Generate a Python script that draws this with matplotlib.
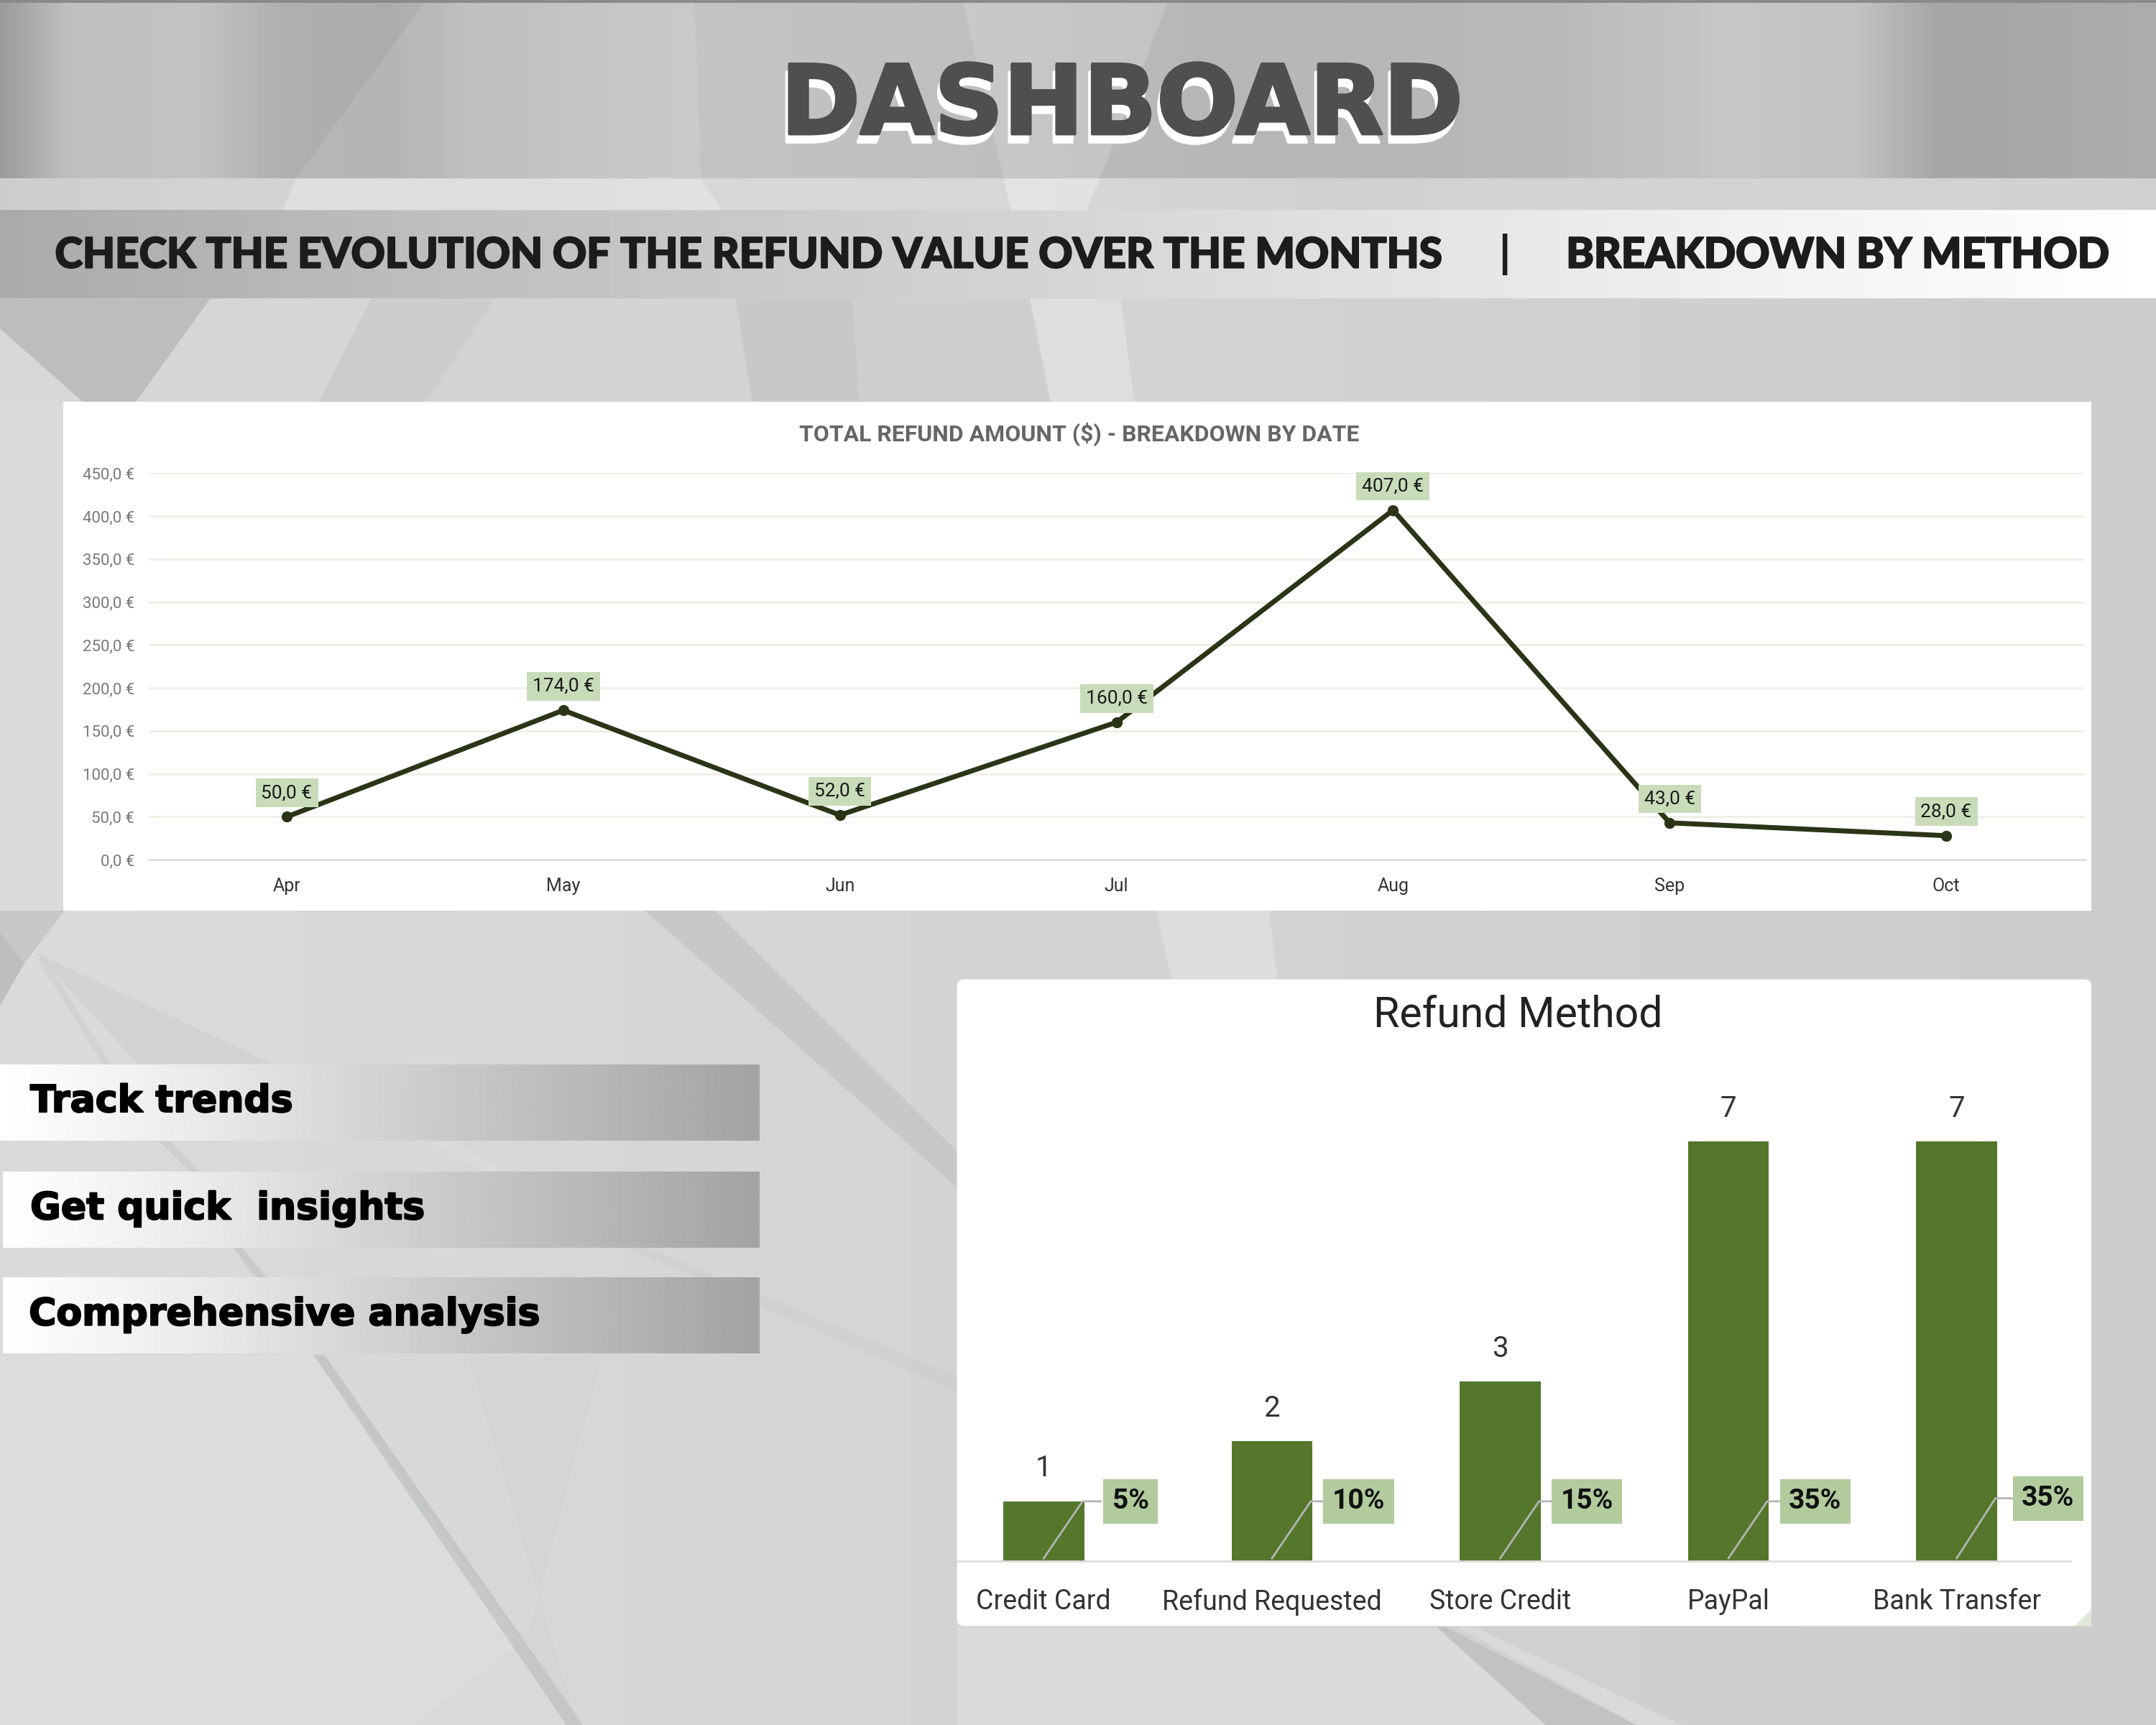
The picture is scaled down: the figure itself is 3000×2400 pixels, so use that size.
import matplotlib
matplotlib.use("Agg")
import matplotlib.patheffects as pe
import matplotlib.pyplot as plt
import numpy as np
from matplotlib.patches import FancyBboxPatch, Polygon, Rectangle

W, H = 1568, 1254

months = ["Apr", "May", "Jun", "Jul", "Aug", "Sep", "Oct"]
refund_amount = [50, 174, 52, 160, 407, 43, 28]
y_ticks = [0, 50, 100, 150, 200, 250, 300, 350, 400, 450]

methods = ["Credit Card", "Refund Requested", "Store Credit", "PayPal", "Bank Transfer"]
method_counts = [1, 2, 3, 7, 7]
method_shares = ["5%", "10%", "15%", "35%", "35%"]

notes = ["Track trends", "Get quick  insights", "Comprehensive analysis"]


def rect(x0, y0, x1, y1):
    # picture coords (y down) to figure fractions
    return [x0 / W, 1 - y1 / H, (x1 - x0) / W, (y1 - y0) / H]


def hgrad(ax, x0, y0, x1, y1, stops, xs=None, z=1):
    xs = np.linspace(0, 1, len(stops)) if xs is None else np.array(xs)
    t = np.linspace(0, 1, 600)
    row = np.interp(t, xs, stops) / 255
    ax.imshow(row[None, :], extent=[x0, x1, y1, y0], cmap="gray", vmin=0, vmax=1,
              aspect="auto", zorder=z, interpolation="bilinear")


fig = plt.figure(figsize=(30, 24), dpi=100)
bg = fig.add_axes([0, 0, 1, 1])
bg.axis("off")
hgrad(bg, 0, 0, W, H, [218, 214, 208, 204], [0, .3, .7, 1], z=0)

# faceted backdrop
facets = [
    ([(0, 239), (0, 217), (153, 217), (99, 292), (60, 292)], "#bcbcbc", 0.95),
    ([(0, 239), (60, 292), (0, 292)], "#d8d8d8", 1),
    ([(153, 217), (360, 217), (310, 292), (99, 292)], "#d6d6d6", 1),
    ([(270, 217), (360, 217), (310, 292), (232, 292)], "#cbcbcb", 0.75),
    ([(360, 217), (535, 217), (547, 292), (310, 292)], "#d3d3d3", 1),
    ([(535, 217), (620, 217), (625, 292), (547, 292)], "#c7c7c7", 0.9),
    ([(620, 217), (749, 217), (764, 292), (625, 292)], "#cfcfcf", 1),
    ([(749, 217), (815, 217), (825, 292), (764, 292)], "#dedede", 1),
    ([(841, 662), (923, 662), (929, 712), (852, 712)], "#dddddd", 1),
    ([(0, 662), (47, 662), (18, 700), (0, 678)], "#c6c6c6", 0.9),
    ([(0, 678), (18, 700), (0, 731)], "#b8b8b8", 0.8),
    ([(25, 692), (197, 773), (100, 773)], "#c9c9c9", 0.4),
    ([(469, 662), (520, 662), (697, 838), (697, 864)], "#bcbcbc", 0.5),
    ([(696, 1183), (1045, 1183), (1124, 1254), (696, 1254)], "#dadbdb", 1),
    ([(1045, 1183), (1052, 1183), (1190, 1254), (1124, 1254)], "#bdbdbd", 0.7),
    ([(1060, 1183), (1073, 1183), (1223, 1254), (1190, 1254)], "#d9d9d9", 1),
    ([(0, 985), (228, 985), (424, 1254), (0, 1254)], "#dddfdf", 0.8),
    ([(340, 985), (438, 985), (384, 1190), (300, 1254), (420, 1254)], "#d2d3d3", 0.3),
    ([(456, 907), (470, 907), (696, 1000), (696, 1012)], "#cccccc", 0.5),
    ([(313, 830), (330, 830), (366, 851), (350, 851)], "#dedede", 0.6),
    ([(228, 985), (236, 985), (424, 1254), (412, 1254)], "#b4b4b4", 0.5),
    ([(116, 830), (124, 830), (146, 852), (138, 852)], "#c6c6c6", 0.5),
    ([(170, 907), (176, 907), (194, 929), (186, 929)], "#c0c0c0", 0.6),
    ([(27, 697), (33, 697), (116, 830), (110, 830)], "#c9c9c9", 0.4),
]
for pts, col, alpha in facets:
    bg.add_patch(Polygon(pts, closed=True, fc=col, ec="none", alpha=alpha, zorder=0.5))

# header strip
hgrad(bg, 0, 0, W, 130, [155, 190, 195, 175, 172, 185, 195, 190, 183, 182, 185, 198, 195, 165, 172],
      [0, .03, .09, .13, .18, .22, .32, .46, .55, .65, .72, .80, .86, .90, 1])
bg.add_patch(Polygon([(310, 0), (505, 0), (510, 130), (215, 130)], fc="white", ec="none", alpha=0.10, zorder=2))
bg.add_patch(Polygon([(700, 0), (850, 0), (800, 130), (730, 130)], fc="white", ec="none", alpha=0.16, zorder=2))
bg.add_patch(Rectangle((0, 0), W, 2, fc="#8a8a8a", ec="none", zorder=2))
hgrad(bg, 0, 130, W, 153, [205, 212, 212, 216, 214, 208, 212, 210, 208])
bg.add_patch(Polygon([(215, 130), (510, 130), (525, 153), (205, 153)], fc="white", ec="none", alpha=0.25, zorder=2))
bg.add_patch(Polygon([(730, 130), (800, 130), (790, 153), (735, 153)], fc="white", ec="none", alpha=0.3, zorder=2))

# sub-title band
hgrad(bg, 0, 153, W, 217, [170, 190, 205, 222, 240, 255], [0, .2, .4, .6, .8, 1])

# note rows
for i, (top, txt, x) in enumerate(zip([774, 852, 929], notes, [22, 22, 21])):
    hgrad(bg, 0 if i == 0 else 2, top, 552, top + 55, [255, 235, 200, 163], [0, .25, .6, 1])
    bg.text(x, top + 27, txt, fontsize=37.5, family="DejaVu Sans", weight="bold", color="black", va="center", zorder=3,
            path_effects=[pe.withStroke(linewidth=1.5, foreground="black")])

# panels
bg.add_patch(Rectangle((46, 292), 1475, 370, fc="white", ec="none", zorder=2))
bg.add_patch(FancyBboxPatch((700, 716), 817, 462, boxstyle="round,pad=4,rounding_size=5", fc="white", ec="none", zorder=2))
bg.add_patch(Polygon([(1509, 1182), (1521, 1170), (1521, 1182)], fc="#dfe8d6", ec="none", zorder=3))

bg.text(814, 84, "DASHBOARD", fontsize=96, family="DejaVu Sans", weight="bold", color="white", ha="center", va="center", zorder=3,
        path_effects=[pe.withStroke(linewidth=3, foreground="white")])
bg.text(816, 78, "DASHBOARD", fontsize=96, family="DejaVu Sans", weight="bold", color="#4f4f4f", ha="center", va="center", zorder=4,
        path_effects=[pe.withStroke(linewidth=3, foreground="#4f4f4f")])
heavy = [pe.withStroke(linewidth=1.5, foreground="#1c1c1c")]
bg.text(40, 186, "CHECK THE EVOLUTION OF THE REFUND VALUE OVER THE MONTHS", fontsize=42, family="Lato", weight=900,
        color="#1c1c1c", va="center", zorder=3, path_effects=heavy)
bg.text(1094, 185, "|", fontsize=44, family="Lato", weight=900, color="#1c1c1c", ha="center", va="center", zorder=3)
bg.text(1139, 186, "BREAKDOWN BY METHOD", fontsize=42, family="Lato", weight=900, color="#1c1c1c", va="center", zorder=3,
        path_effects=heavy)

bg.set_xlim(0, W)
bg.set_ylim(H, 0)

# line chart
ax = fig.add_axes(rect(108, 344, 1516, 625))
ax.patch.set_alpha(0)
x = np.arange(len(months))
ax.plot(x, refund_amount, color="#2a3517", lw=5, marker="o", ms=10, zorder=3)
ax.set_xlim(-0.5, 6.5)
ax.set_ylim(0, 450)
ax.set_yticks(y_ticks)
ax.set_yticklabels([f"{v:.1f} €".replace(".", ",") for v in y_ticks], fontsize=16, color="#7a7a7a", family="Roboto")
ax.set_xticks(x)
ax.set_xticklabels(months, fontsize=18, color="#333333", family="Roboto")
ax.tick_params(length=0, axis="y", pad=14)
ax.tick_params(length=0, axis="x", pad=18)
ax.grid(axis="y", color="#eef0e4", lw=2)
ax.set_axisbelow(True)
for name in ["top", "left", "right"]:
    ax.spines[name].set_visible(False)
ax.spines["bottom"].set_color("#dddddd")
ax.spines["bottom"].set_linewidth(2)
for xi, v in zip(x, refund_amount):
    ax.annotate(f"{v:.1f} €".replace(".", ","), (xi, v), xytext=(0, 24), textcoords="offset points",
                ha="center", va="center", fontsize=19, color="#1a1a1a", family="Roboto", zorder=5,
                bbox=dict(boxstyle="square,pad=0.3", fc="#c8dcba", ec="none"))
bg.text(785, 316, "TOTAL REFUND AMOUNT ($) - BREAKDOWN BY DATE", fontsize=23, family="Roboto", weight="bold",
        color="#666666", ha="center", va="center", zorder=3)

# bar chart
bx = fig.add_axes(rect(696, 712, 1506, 1135))
bx.patch.set_alpha(0)
pos = np.arange(len(methods))
bx.bar(pos, method_counts, width=0.355, color="#54772b", zorder=2)
bx.set_xlim(-0.38, 4.5)
bx.set_ylim(0, 9.7)
bx.set_yticks([])
bx.set_xticks(pos)
bx.set_xticklabels(methods, fontsize=27, color="#333333", family="Roboto")
bx.tick_params(length=0, axis="x", pad=27)
for name in ["top", "left", "right"]:
    bx.spines[name].set_visible(False)
bx.spines["bottom"].set_color("#dddddd")
bx.spines["bottom"].set_linewidth(2)
for p, c, share in zip(pos, method_counts, method_shares):
    bx.annotate(str(c), (p, c), xytext=(0, 33), textcoords="offset points", ha="center", va="center",
                fontsize=29, color="#333333", family="Roboto")
    # the last label sits a little further out in the original
    dx, dy = (0.02, 0.05) if p == pos[-1] else (0, 0)
    # leader line runs from the bar foot up to the share label
    bx.plot([p, p + 0.17, p + 0.25 + dx], [0.05, 1.0 + dy, 1.0 + dy], color="#b5b5b5", lw=2, zorder=3, clip_on=False)
    bx.text(p + 0.38 + dx, 1.0 + dy, share, fontsize=28, weight="bold", family="Roboto", color="#111111", ha="center",
            va="center", zorder=4, bbox=dict(boxstyle="square,pad=0.32", fc="#b1cb9d", ec="none"))
bg.text(1104, 738, "Refund Method", fontsize=42.5, family="Roboto", color="#222222", ha="center", va="center", zorder=3)

fig.savefig("out.png", dpi=100)
